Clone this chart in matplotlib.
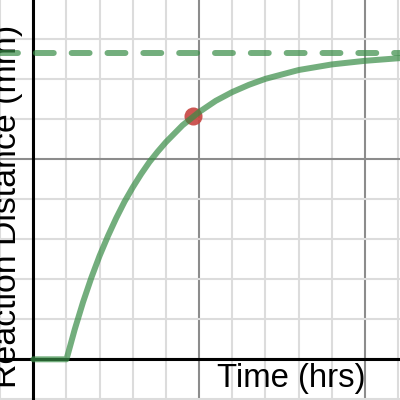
import numpy as np
import matplotlib
matplotlib.use("Agg")
import matplotlib.pyplot as plt

# значения
time_hrs = [0, 1, 1.25, 1.5, 1.75, 2, 2.25, 2.5, 2.75, 3, 3.25, 3.5, 3.75, 4, 4.5,
            5, 5.5, 6, 6.5, 7, 8, 9, 10, 11.1]
distance_mm = [0, 0, 0.75, 1.43, 2.04, 2.59, 3.08, 3.53, 3.94, 4.30, 4.63, 4.93, 5.19,
               5.43, 5.85, 6.18, 6.46, 6.68, 6.86, 7.01, 7.23, 7.37, 7.46, 7.53]
asymptote = 7.65
point_x, point_y = 4.82, 6.07

x_label = "Time (hrs)"
y_label = "Reaction Distance (mm)"

green = "#388c46"
red = "#c74440"

plt.rcParams['font.family'] = ['Liberation Sans', 'DejaVu Sans']

fig = plt.figure(figsize=(4, 4), dpi=100)
ax = fig.add_axes([0, 0, 1, 1])
ax.set_xlim(-1.004, 11.055)
ax.set_ylim(-1.017, 8.98)

# сетка
ax.set_xticks([0, 5, 10])
ax.set_xticks(np.arange(-1, 12), minor=True)
ax.set_yticks([0, 5])
ax.set_yticks(np.arange(-1, 9), minor=True)
ax.grid(which='minor', color='#dcdcdc', lw=1.5, zorder=0)
ax.grid(which='major', color='#8c8c8c', lw=1.5, zorder=0)
ax.tick_params(which='both', length=0, labelbottom=False, labelleft=False)
for s in ax.spines.values():
    s.set_visible(False)
ax.set_axisbelow(True)

# оси
ax.axhline(0, color='black', lw=2.2, zorder=2)
ax.axvline(0, color='black', lw=2.2, zorder=2)

# подписи
ax.text(0.543, 0.0325, x_label, transform=fig.transFigure, fontsize=23.7,
        ha='left', va='baseline', zorder=3, clip_on=False)
ax.text(0.04, 0.03, y_label, transform=fig.transFigure, fontsize=24.4,
        rotation=90, rotation_mode='anchor', ha='left', va='baseline',
        zorder=3, clip_on=False)

# асимптота и кривая
ax.axhline(asymptote, color=green, alpha=0.7, lw=4.3, ls=(0, (3, 3)),
           dash_capstyle='round', zorder=5)
ax.plot([point_x], [point_y], 'o', color=red, ms=13, alpha=0.9, mec='none', zorder=4)
ax.plot(time_hrs, distance_mm, color=green, alpha=0.7, lw=4.3,
        solid_capstyle='round', solid_joinstyle='round', zorder=6)

fig.savefig("out.png", dpi=100)
